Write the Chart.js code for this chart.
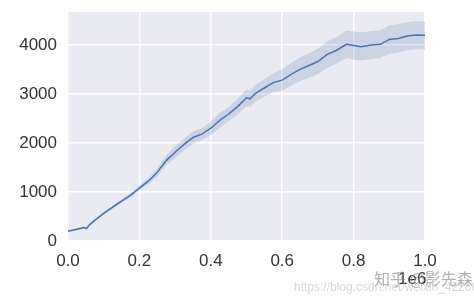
<!DOCTYPE html>
<html>
<head>
<meta charset="utf-8">
<script src="https://cdn.jsdelivr.net/npm/chart.js"></script>
<style>
  html, body { margin: 0; padding: 0; background: #fff; }
  #wrap { position: relative; width: 474px; height: 299px; }
  .note { position: absolute; font-family: "Liberation Sans", Arial, sans-serif; white-space: nowrap; }
  #offset { left: 398px; top: 269px; font-size: 17px; color: #333; }
  #mark1 { left: 374px; top: 266px; font-size: 16px; color: rgba(150,150,150,0.75); font-family: "Noto Sans CJK SC", sans-serif; }
  #mark2 { left: 294px; top: 280px; font-size: 12px; color: rgba(200,200,200,0.7); }
</style>
</head>
<body>
<div id="wrap">
  <canvas id="chart" width="474" height="299"></canvas>
  <div class="note" id="offset">1e6</div>
  <div class="note" id="mark1">知乎 @影先森</div>
  <div class="note" id="mark2">https://blog.csdn.net/weixin_42260907</div>
</div>
<script>
// steps (x, in units of 1e6)
const steps = [0.000, 0.025, 0.045, 0.052, 0.060, 0.075, 0.100, 0.125, 0.150, 0.175,
  0.200, 0.225, 0.250, 0.275, 0.300, 0.325, 0.350, 0.375, 0.400, 0.425,
  0.450, 0.475, 0.500, 0.510, 0.525, 0.550, 0.575, 0.600, 0.625, 0.650,
  0.675, 0.700, 0.725, 0.750, 0.780, 0.800, 0.820, 0.850, 0.875, 0.900,
  0.925, 0.950, 0.975, 1.000];

const meanReturn = [200, 240, 275, 255, 330, 420, 565, 690, 815, 930,
  1080, 1220, 1400, 1640, 1810, 1970, 2110, 2180, 2300, 2460,
  2590, 2740, 2920, 2900, 3010, 3120, 3230, 3280, 3400, 3500,
  3580, 3660, 3800, 3880, 4010, 3985, 3960, 3995, 4010, 4110,
  4130, 4180, 4200, 4195];

const bandLow = [185, 222, 255, 235, 305, 395, 535, 655, 775, 885,
  1030, 1160, 1320, 1540, 1690, 1850, 1990, 2060, 2160, 2310,
  2440, 2580, 2750, 2730, 2840, 2940, 3040, 3060, 3170, 3260,
  3330, 3400, 3530, 3610, 3730, 3700, 3680, 3710, 3730, 3820,
  3840, 3890, 3910, 3900];

const bandHigh = [215, 258, 295, 278, 355, 445, 595, 725, 855, 975,
  1130, 1280, 1480, 1740, 1930, 2090, 2240, 2300, 2440, 2610,
  2740, 2900, 3090, 3070, 3180, 3300, 3420, 3500, 3630, 3740,
  3830, 3920, 4070, 4150, 4290, 4270, 4250, 4280, 4300, 4400,
  4420, 4460, 4480, 4470];

const xTicks = [0, 0.2, 0.4, 0.6, 0.8, 1.0];
const yTicks = [0, 1000, 2000, 3000, 4000];

function pts(arr) {
  return steps.map((x, i) => ({ x: x, y: arr[i] }));
}

const plotBg = {
  id: "plotBg",
  beforeDraw(chart) {
    const a = chart.chartArea;
    const ctx = chart.ctx;
    ctx.save();
    ctx.fillStyle = "#EAEAF2";
    ctx.fillRect(a.left, a.top, a.right - a.left, a.bottom - a.top);
    ctx.restore();
  }
};

const tickFont = { family: "'Liberation Sans', Arial, sans-serif", size: 17 };

new Chart(document.getElementById("chart"), {
  type: "line",
  data: {
    datasets: [
      {
        data: pts(bandLow),
        borderWidth: 0,
        pointRadius: 0,
        fill: false
      },
      {
        data: pts(bandHigh),
        borderWidth: 0,
        pointRadius: 0,
        backgroundColor: "rgba(76,114,176,0.2)",
        fill: "-1"
      },
      {
        data: pts(meanReturn),
        borderColor: "#4C72B0",
        borderWidth: 1.5,
        pointRadius: 0,
        fill: false
      }
    ]
  },
  options: {
    responsive: false,
    animation: false,
    layout: { padding: { left: 0, right: 49, top: 12, bottom: 0 } },
    plugins: { legend: { display: false }, tooltip: { enabled: false } },
    scales: {
      x: {
        type: "linear",
        min: 0,
        max: 1,
        afterBuildTicks(scale) { scale.ticks = xTicks.map(v => ({ value: v })); },
        afterFit(scale) {
          scale.height = 58;
          scale.paddingLeft = 0;
          scale.paddingRight = 0;
        },
        grid: { color: "#FFFFFF", lineWidth: 1.5, drawTicks: false },
        border: { display: false },
        ticks: {
          color: "#333",
          font: tickFont,
          padding: 10,
          maxRotation: 0,
          callback: v => v.toFixed(1)
        }
      },
      y: {
        min: 0,
        max: 4670,
        afterBuildTicks(scale) { scale.ticks = yTicks.map(v => ({ value: v })); },
        afterFit(scale) {
          scale.width = 68;
          scale.paddingTop = 0;
          scale.paddingBottom = 0;
        },
        grid: { color: "#FFFFFF", lineWidth: 1.5, drawTicks: false },
        border: { display: false },
        ticks: {
          color: "#333",
          font: tickFont,
          padding: 11,
          callback: v => String(v)
        }
      }
    }
  },
  plugins: [plotBg]
});
</script>
</body>
</html>
